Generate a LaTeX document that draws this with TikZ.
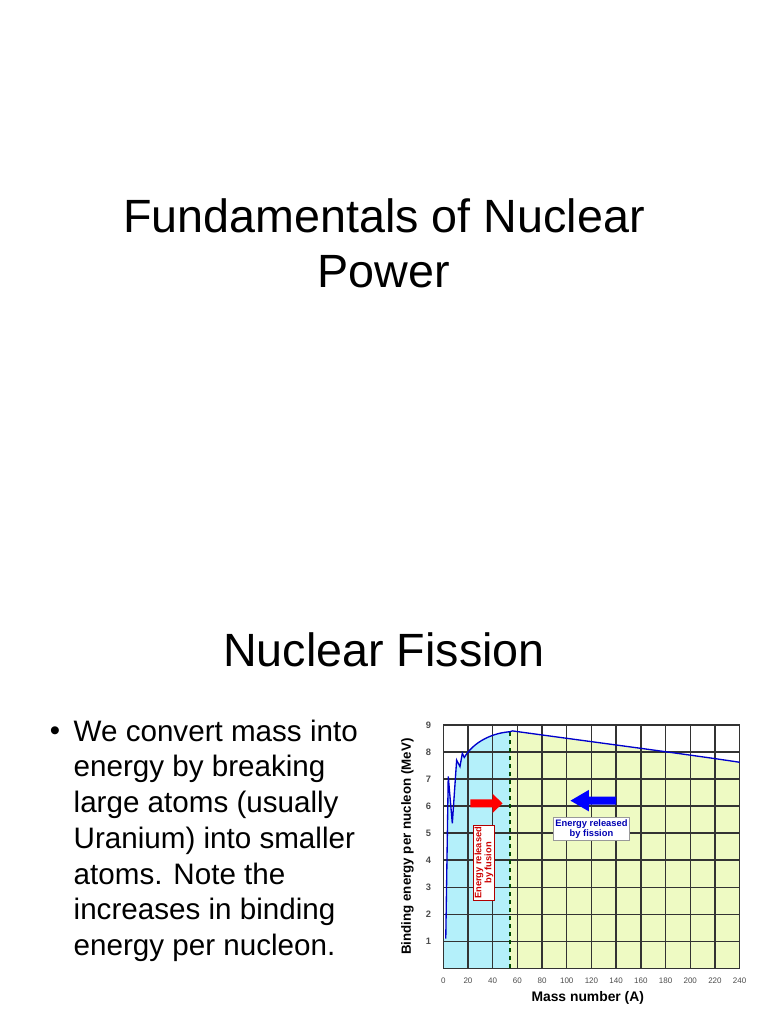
\documentclass[tikz,border=0pt]{standalone}
\usepackage{fontspec}
\setmainfont{Liberation Sans}
\begin{document}
\begin{tikzpicture}[x=0.75pt,y=-0.75pt]
\useasboundingbox (0,0) rectangle (768,1024);
\tikzset{ttl/.style={font=\fontsize{35}{41}\selectfont,align=center},
 bul/.style={font=\fontsize{22.2}{26.8}\selectfont,align=left,anchor=north west},
 tick/.style={font=\fontsize{6}{7}\selectfont,text=black!70},
 grd/.style={draw=black!80,line width=1pt}}
\node[ttl] (t1) at (384,243) {Fundamentals of Nuclear\\Power};
\node[ttl] (t2) at (384,650) {Nuclear Fission};
\node[font=\fontsize{22}{26.8}\selectfont] (b) at (55,734) {•};
\node[bul] (bt) at (69,715) {We convert mass into\\energy by breaking\\large atoms (usually\\Uranium) into smaller\\atoms.  Note the\\increases in binding\\energy per nucleon.};
\begin{scope}[shift={(443.3,968.3)},x=0.926pt,y=20.28pt]
\definecolor{cy}{RGB}{180,240,250}
\definecolor{ye}{RGB}{238,250,195}
\fill[cy] (0,0) -- (0,1.1) -- (2,1.1) -- (4,7.1) -- (7.3,5.36) -- (10.8,7.7) -- (13.5,7.46) -- (15.4,7.95) -- (17,7.8) .. controls (25,8.4) and (40,8.7) .. (54,8.75) -- (54,0) -- cycle;
\fill[ye] (54,0) -- (54,8.75) -- (56,8.78) .. controls (100,8.5) and (200,7.9) .. (240,7.62) -- (240,0) -- cycle;
\foreach \i in {0,20,...,240} \draw[grd] (\i,0) -- (\i,9);
\foreach \j in {0,...,9} \draw[grd] (0,\j) -- (240,\j);
\draw[dashed,draw=green!30!black,line width=0.8pt] (54,0) -- (54,8.75);
\draw[blue!80!black,line width=1pt] (2,1.1) -- (4,7.1) -- (7.3,5.36) -- (10.8,7.7) -- (13.5,7.46) -- (15.4,7.95) -- (17,7.8) .. controls (25,8.4) and (40,8.7) .. (54,8.75) -- (56,8.78) .. controls (100,8.5) and (200,7.9) .. (240,7.62);
\foreach \i in {0,20,...,240} \node[tick] at (\i,-0.45) {\i};
\foreach \j in {1,...,9} \node[tick,font=\fontsize{7}{8}\selectfont\bfseries] at (-12,\j) {\j};
\fill[red] (22,5.95) -- (40,5.95) -- (40,5.75) -- (48,6.1) -- (40,6.45) -- (40,6.25) -- (22,6.25) -- cycle;
\fill[blue] (140,6.05) -- (118,6.05) -- (118,5.8) -- (103,6.2) -- (118,6.6) -- (118,6.35) -- (140,6.35) -- cycle;
\node[draw=red!70!black,fill=white,rotate=90,align=center,font=\fontsize{7}{7.5}\selectfont\bfseries,text=red!80!black,inner sep=1pt] (fu) at (33,3.9) {Energy released\\by fusion};
\node[draw=black!40,fill=white,align=center,font=\fontsize{7}{7.5}\selectfont\bfseries,text=blue!70!black,inner sep=1.5pt] (fi) at (120,5.15) {Energy released\\by fission};
\node[font=\fontsize{10}{11}\selectfont\bfseries,rotate=90] (yl) at (-29,4.5) {Binding energy per nucleon (MeV)};
\node[font=\fontsize{10.4}{11}\selectfont\bfseries] (xl) at (117,-1.1) {Mass number (A)};
\end{scope}
\end{tikzpicture}
\end{document}
